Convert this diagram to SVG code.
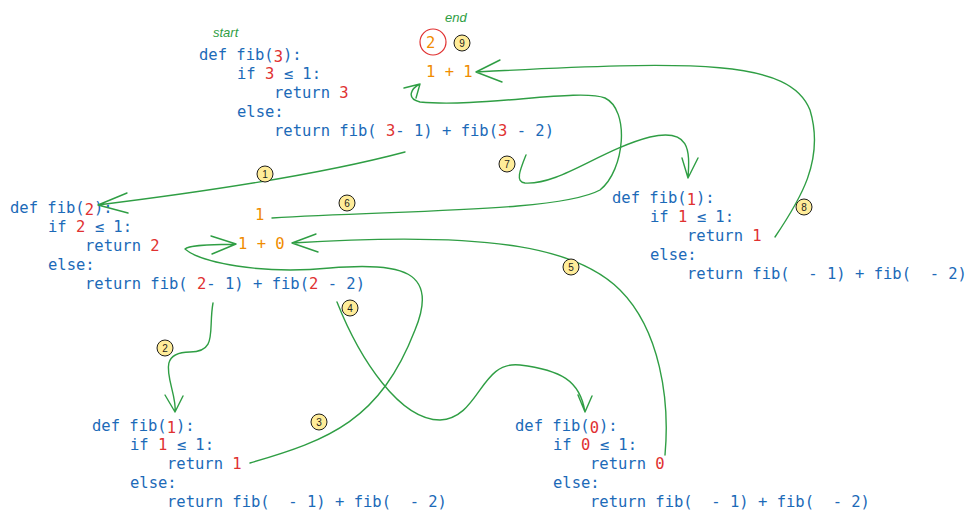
<svg xmlns="http://www.w3.org/2000/svg" width="978" height="522" viewBox="0 0 978 522">
<style>
.c{font-family:"DejaVu Sans Mono","Liberation Mono",monospace;font-size:15.5px;fill:#1c6ab8;white-space:pre}
.r{fill:#e03131}
.o{font-family:"DejaVu Sans Mono","Liberation Mono",monospace;font-size:15.5px;fill:#f08c00;white-space:pre}
.e{fill:none;stroke:#2f9e44;stroke-width:1.4;stroke-linecap:round;stroke-linejoin:round}
.b{fill:#ffec99;stroke:#1e1e1e;stroke-width:1}
.bt{font-family:"Liberation Sans",sans-serif;font-size:10px;fill:#1e1e1e;text-anchor:middle}
.h{font-family:"Liberation Sans",sans-serif;font-style:italic;font-size:13px;fill:#2f9e44}
</style>
<rect width="978" height="522" fill="#fff"/>
<g id="fib3">
<text class="h" x="213" y="37">start</text>
<text class="c" x="199" y="60">def fib(<tspan class="r" dy="2">3</tspan><tspan dy="-2">):</tspan></text>
<text class="c" x="237" y="79">if <tspan class="r">3</tspan> ≤ 1:</text>
<text class="c" x="274" y="98">return <tspan class="r">3</tspan></text>
<text class="c" x="237" y="117">else:</text>
<text class="c" x="274" y="136" xml:space="preserve">return fib( <tspan class="r">3</tspan>- 1) + fib(<tspan class="r">3</tspan> - 2)</text>
</g>
<g id="result">
<text class="h" x="445" y="22">end</text>
<circle cx="433" cy="42" r="13" fill="none" stroke="#e03131" stroke-width="1.2"/>
<text class="o" x="426" y="48">2</text>
<text class="o" x="426" y="77">1 + 1</text>
</g>
<g id="fib2">
<text class="c" x="10" y="213">def fib(<tspan class="r" dy="2">2</tspan><tspan dy="-2">):</tspan></text>
<text class="c" x="48" y="232">if <tspan class="r">2</tspan> ≤ 1:</text>
<text class="c" x="85" y="251">return <tspan class="r">2</tspan></text>
<text class="c" x="48" y="270">else:</text>
<text class="c" x="85" y="289" xml:space="preserve">return fib( <tspan class="r">2</tspan>- 1) + fib(<tspan class="r">2</tspan> - 2)</text>
<text class="o" x="255" y="220">1</text>
<text class="o" x="238" y="249">1 + 0</text>
</g>
<g id="fib1a">
<text class="c" x="612" y="203">def fib(<tspan class="r" dy="2">1</tspan><tspan dy="-2">):</tspan></text>
<text class="c" x="650" y="222">if <tspan class="r">1</tspan> ≤ 1:</text>
<text class="c" x="687" y="241">return <tspan class="r">1</tspan></text>
<text class="c" x="650" y="260">else:</text>
<text class="c" x="687" y="279" xml:space="preserve">return fib(  - 1) + fib(  - 2)</text>
</g>
<g id="fib1b">
<text class="c" x="92" y="431">def fib(<tspan class="r" dy="2">1</tspan><tspan dy="-2">):</tspan></text>
<text class="c" x="130" y="450">if <tspan class="r">1</tspan> ≤ 1:</text>
<text class="c" x="167" y="469">return <tspan class="r">1</tspan></text>
<text class="c" x="130" y="488">else:</text>
<text class="c" x="167" y="507" xml:space="preserve">return fib(  - 1) + fib(  - 2)</text>
</g>
<g id="fib0">
<text class="c" x="515" y="431">def fib(<tspan class="r" dy="2">0</tspan><tspan dy="-2">):</tspan></text>
<text class="c" x="553" y="450">if <tspan class="r">0</tspan> ≤ 1:</text>
<text class="c" x="590" y="469">return <tspan class="r">0</tspan></text>
<text class="c" x="553" y="488">else:</text>
<text class="c" x="590" y="507" xml:space="preserve">return fib(  - 1) + fib(  - 2)</text>
</g>
<g id="connectors">
<path class="e" d="M405 152 Q300 180 98 205 M98 205 L127 193 M98 205 L128 213"/>
<path class="e" d="M213 303 C208 330 218 352 190 352 C150 352 178 390 175 412 M175 412 L165 395 M175 412 L183 396"/>
<path class="e" d="M250 463 C330 440 380 420 415 330 C440 270 400 262 330 268 C260 275 200 262 185 249 C190 244 220 245 236 244 M236 244 L211 236 M236 244 L212 254"/>
<path class="e" d="M337 302 C360 360 400 420 440 420 C480 418 480 360 520 365 C560 370 580 380 585 412 M585 412 L578 395 M585 412 L592 396"/>
<path class="e" d="M665 455 C670 400 660 330 620 290 C580 250 500 230 292 243 M292 243 L316 234 M292 243 L318 252"/>
<path class="e" d="M272 218 C400 210 560 212 600 190 C625 170 630 110 605 98 C580 88 480 108 420 102 C405 98 412 88 420 84 M420 84 L404 88 M420 84 L416 98"/>
<path class="e" d="M526 155 C520 170 515 182 525 183 C560 185 600 150 650 137 C690 128 690 150 688 178 M688 178 L682 158 M688 178 L698 158"/>
<path class="e" d="M775 237 C800 200 825 160 810 110 C790 60 700 60 476 72 M476 72 L500 60 M476 72 L502 82"/>
</g>
<g id="badges">
<circle class="b" cx="265" cy="174" r="8"/><text class="bt" x="265" y="178">1</text>
<circle class="b" cx="165" cy="348" r="8"/><text class="bt" x="165" y="352">2</text>
<circle class="b" cx="319" cy="422" r="8"/><text class="bt" x="319" y="426">3</text>
<circle class="b" cx="350" cy="308" r="8"/><text class="bt" x="350" y="312">4</text>
<circle class="b" cx="571" cy="267" r="8"/><text class="bt" x="571" y="271">5</text>
<circle class="b" cx="347" cy="203" r="8"/><text class="bt" x="347" y="207">6</text>
<circle class="b" cx="507" cy="164" r="8"/><text class="bt" x="507" y="168">7</text>
<circle class="b" cx="804" cy="207" r="8"/><text class="bt" x="804" y="211">8</text>
<circle class="b" cx="462" cy="43" r="8"/><text class="bt" x="462" y="47">9</text>
</g>
</svg>
